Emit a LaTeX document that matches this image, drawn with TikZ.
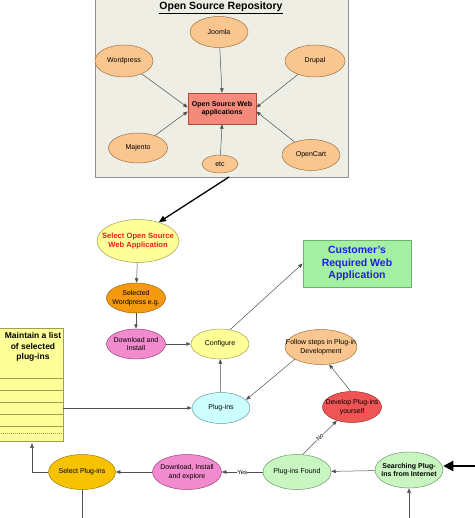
\documentclass[tikz,border=0pt]{standalone}
\usepackage{fontspec}
\setmainfont{Liberation Sans}
\usetikzlibrary{shapes.geometric,arrows.meta}
\definecolor{repobg}{HTML}{EEEEE4}
\definecolor{repobd}{HTML}{909090}
\definecolor{peachf}{HTML}{FAC690}
\definecolor{peachd}{HTML}{A0703C}
\definecolor{salmf}{HTML}{F48A7C}
\definecolor{salmd}{HTML}{B04A3A}
\definecolor{yelf}{HTML}{FFFF99}
\definecolor{yeld}{HTML}{A0A040}
\definecolor{orgf}{HTML}{F5990F}
\definecolor{orgd}{HTML}{A06010}
\definecolor{pinkf}{HTML}{F28BCE}
\definecolor{pinkd}{HTML}{A04080}
\definecolor{cyanf}{HTML}{CCFFFF}
\definecolor{cyand}{HTML}{6A9A9A}
\definecolor{redf}{HTML}{F05555}
\definecolor{redd}{HTML}{A02A2A}
\definecolor{grnf}{HTML}{C9F5C1}
\definecolor{grnd}{HTML}{6A9A6A}
\definecolor{goldf}{HTML}{F7C200}
\definecolor{goldd}{HTML}{A07A00}
\definecolor{custf}{HTML}{A3F0A3}
\definecolor{custd}{HTML}{70B070}
\definecolor{custt}{HTML}{1E1EE6}
\definecolor{listd}{HTML}{A0A050}
\definecolor{linec}{HTML}{505050}
\definecolor{selt}{HTML}{E81E1E}
\newcommand\nfs{\fontsize{7}{8.5}\selectfont}
\begin{document}
\begin{tikzpicture}[x=1pt,y=-1pt,
  el/.style={ellipse,inner sep=0pt,line width=0.5pt},
  lf/.style={align=center,font=\nfs,inner sep=0pt},
  tx/.style={label={[lf]center:{#1}}},
  sz/.style 2 args={minimum width=#1pt,minimum height=#2pt},
  peach/.style={el,fill=peachf,draw=peachd},
  arr/.style={draw=linec,line width=0.5pt,-{Triangle[length=4.5pt,width=3.5pt]}},
  thick arr/.style={draw=black,line width=1.3pt,-{Triangle[length=7pt,width=6pt]}},
  lbl/.style={font=\fontsize{6}{7}\selectfont,fill=white,inner sep=0.3pt}]
\useasboundingbox (0,0) rectangle (474,518);

% repository
\node[draw=repobd,fill=repobg,line width=0.6pt,minimum width=253pt,minimum height=179pt,inner sep=0pt] (repo) at (221.5,87.5) {};
\node[font=\fontsize{10.5}{12}\selectfont\bfseries,inner sep=0pt] (title) at (221,8) {\underline{Open Source Repository}};
\node[fill=salmf,draw=salmd,line width=0.5pt,rectangle,sz={68}{31},inner sep=0pt,align=center,font=\fontsize{7}{8.4}\selectfont\bfseries] (osw) at (222,108.5) {Open Source Web\\applications};
\node[peach,sz={58}{31},tx={Joomla}] (joomla) at (219,32) {};
\node[peach,sz={58}{32},tx={Wordpress}] (wp) at (124,61) {};
\node[peach,sz={60}{32},tx={Drupal}] (drupal) at (315,61) {};
\node[peach,sz={59}{30},tx={Majento}] (maj) at (138,148) {};
\node[peach,sz={36}{18},tx={etc}] (etc) at (220,164) {};
\node[peach,sz={58}{31},tx={OpenCart}] (oc) at (311,155) {};
\draw[arr] (joomla) -- (osw.north);
\draw[arr] (etc) -- (osw.south);
\draw[arr] (wp) -- ([yshift=1pt]osw.west);
\draw[arr] (maj) -- ([yshift=-3pt]osw.west);
\draw[arr] (drupal) -- ([yshift=1pt]osw.east);
\draw[arr] (oc) -- ([yshift=-3pt]osw.east);

% main flow
\node[el,fill=yelf,draw=yeld,sz={82}{43},label={[lf,text=selt,font=\fontsize{7.6}{9.5}\selectfont\bfseries]center:{Select Open Source\\Web Application}}] (sel) at (138,241) {};
\coordinate (rb) at (229,177);
\draw[thick arr] (rb) -- (sel.42);
\node[el,fill=orgf,draw=orgd,sz={59}{30},tx={Selected\\Wordpress e.g.}] (selwp) at (136,298) {};
\node[el,fill=pinkf,draw=pinkd,sz={59}{30},tx={Download and\\Install}] (dl) at (136,344) {};
\node[el,fill=yelf,draw=yeld,sz={58}{30},tx={Configure}] (conf) at (220,344) {};
\node[draw=custd,fill=custf,line width=0.6pt,minimum width=108pt,minimum height=47pt,inner sep=0pt,align=center,text=custt,font=\fontsize{10.5}{12.5}\selectfont\bfseries] (cust) at (357,263.5) {Customer's\\Required Web\\Application};
\node[el,fill=peachf,draw=peachd,sz={72}{35},tx={Follow steps in Plug-in\\Development}] (follow) at (321,347) {};
\node[el,fill=cyanf,draw=cyand,sz={58}{31},tx={Plug-ins}] (plug) at (221,408) {};
\node[el,fill=redf,draw=redd,sz={59}{31},tx={Develop Plug-ins\\yourself}] (dev) at (352,407) {};
\node[el,fill=grnf,draw=grnd,sz={68}{35},tx={Plug-ins Found}] (found) at (297,472) {};
\node[el,fill=grnf,draw=grnd,sz={68}{36},label={[lf,font=\fontsize{7}{8.5}\selectfont\bfseries]center:{Searching Plug-\\ins from Internet}}] (search) at (409,470) {};
\node[el,fill=pinkf,draw=pinkd,sz={69}{35},tx={Download, Install\\and explore}] (dl2) at (187,472) {};
\node[el,fill=goldf,draw=goldd,sz={67}{35},tx={Select Plug-ins}] (selp) at (82,472) {};

\draw[arr] (sel) -- (selwp);
\draw[arr] (selwp) -- (dl);
\draw[arr] (dl) -- (conf);
\draw[arr] (conf.55) -- (cust.west);
\draw[arr] (plug) -- (conf);
\draw[arr] (follow.205) -- (plug.18);
\draw[arr] (dev.95) -- (follow.295);
\draw[arr] (found.72) -- node[lbl,sloped] {No} (dev.222);
\draw[arr] (search) -- (found);
\draw[arr] (found) -- node[lbl] {Yes} (dl2);
\draw[arr] (dl2) -- (selp);

\coordinate (rin) at (476,466);
\draw[draw=black,line width=2.2pt,-{Triangle[length=10pt,width=10pt]}] (rin) -- (search.east |- rin);
\coordinate (bin) at (409,520);
\draw[arr] (bin) -- (search.south);
\coordinate (bout) at (82,520);
\draw[draw=linec,line width=0.5pt] (selp.south) -- (bout);

% list
\node[draw=listd,fill=yelf,line width=0.6pt,minimum width=66pt,minimum height=113pt,inner sep=0pt] (list) at (30,384.5) {};
\node[font=\fontsize{8.5}{10.5}\selectfont\bfseries,align=center,inner sep=0pt] (listt) at (33,347) {Maintain a list\\of selected\\plug-ins};
\foreach \yy in {378,390,402,414,426} \draw[draw=listd,line width=0.5pt] (-3,\yy) -- (63,\yy);
\draw[draw=listd,line width=0.5pt,dashed,dash pattern=on 1pt off 1pt] (-3,433) -- (63,433);
\draw[arr] (selp.west) -| ([xshift=2pt,yshift=-2pt]list.south);
\draw[arr] (list.east |- plug.west) -- (plug.west);
\end{tikzpicture}
\end{document}
